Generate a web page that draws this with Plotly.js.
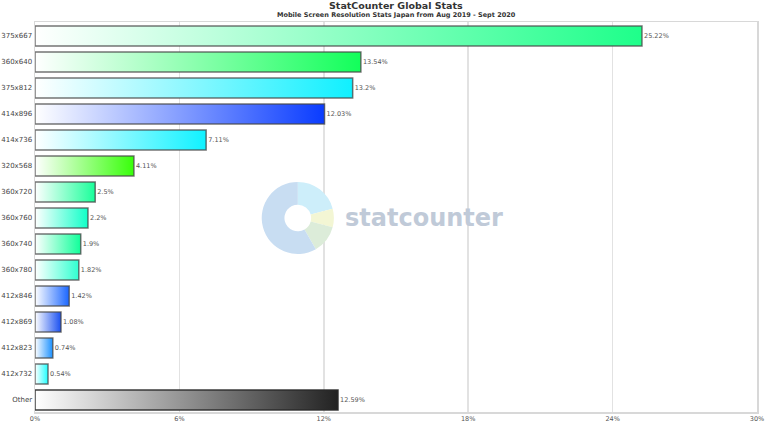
<!DOCTYPE html>
<html>
<head>
<meta charset="utf-8">
<script src="https://cdn.plot.ly/plotly-3.0.1.min.js"></script>
<style>html,body{margin:0;padding:0;background:#fff;}#chart{width:768px;height:432px;}</style>
</head>
<body>
<div id="chart"></div>
<script>
const categories = ['375x667','360x640','375x812','414x896','414x736','320x568','360x720','360x760','360x740','360x780','412x846','412x869','412x823','412x732','Other'];
const shares = [25.22, 13.54, 13.2, 12.03, 7.11, 4.11, 2.5, 2.2, 1.9, 1.82, 1.42, 1.08, 0.74, 0.54, 12.59];
const labels = ['25.22%','13.54%','13.2%','12.03%','7.11%','4.11%','2.5%','2.2%','1.9%','1.82%','1.42%','1.08%','0.74%','0.54%','12.59%'];
const barColors = ['#1eff8a','#12ff5a','#10f0ff','#0a3cff','#10f2ff','#38ff0a','#1aff9a','#10ffc8','#10ff9a','#30ffd0','#1a66ff','#1a50f0','#1a90ff','#20ffff','#222222'];
const xTickVals = [0, 6, 12, 18, 24, 30];
const xTickText = ['0%','6%','12%','18%','24%','30%'];
const logoValues = [75, 30, 45, 210];
const logoColors = ['#cdeefa','#f3f6d4','#dcecd9','#c8ddf2'];

const half = 0.385;
const traces = [];
traces.push({
  type: 'pie', values: logoValues, marker: {colors: logoColors}, hole: 0.37, sort: false,
  direction: 'clockwise', rotation: 0, textinfo: 'none', hoverinfo: 'skip', showlegend: false,
  domain: {x: [0.314, 0.414], y: [0.405, 0.59]}
});
categories.forEach((c, i) => {
  const v = shares[i];
  traces.push({
    type: 'scatter', mode: 'lines', hoverinfo: 'skip', showlegend: false,
    x: [0, v, v, 0, 0],
    y: [i - half, i - half, i + half, i + half, i - half],
    fill: 'toself',
    fillgradient: {type: 'horizontal', colorscale: [[0, '#ffffff'], [1, barColors[i]]]},
    line: {color: i === 14 ? 'rgba(40,40,40,0.9)' : 'rgba(70,70,70,0.75)', width: 1.5}
  });
});
traces.push({
  type: 'scatter', mode: 'text', x: shares, y: categories.map((c, i) => i),
  text: labels.map(t => ' ' + t), textposition: 'middle right', hoverinfo: 'skip', showlegend: false,
  textfont: {size: 6.5, color: '#555', family: 'DejaVu Sans'}, cliponaxis: false
});

const layout = {
  width: 768, height: 432,
  margin: {l: 35, r: 11, t: 22, b: 20},
  paper_bgcolor: '#fff', plot_bgcolor: '#fff',
  font: {family: 'DejaVu Sans', color: '#444'},
  xaxis: {range: [0, 30], tickvals: xTickVals, ticktext: xTickText, showgrid: true, gridcolor: '#e2e2e2', gridwidth: 1.5,
          zeroline: false, showline: true, linecolor: '#d8d8d8', linewidth: 1.5, mirror: true,
          tickfont: {size: 6.5, color: '#555'}, ticks: '', fixedrange: true},
  yaxis: {range: [14.46, -0.54], tickvals: categories.map((c, i) => i), ticktext: categories, showgrid: false,
          zeroline: false, showline: true, linecolor: '#d8d8d8', linewidth: 1.5, mirror: true,
          tickfont: {size: 7, color: '#444'}, ticks: '', fixedrange: true},
  annotations: [
    {text: '<b>StatCounter Global Stats</b>', x: 0.5, y: 1 + 16/390, xref: 'paper', yref: 'paper', xanchor: 'center', yanchor: 'middle',
     showarrow: false, font: {size: 9.5, color: '#333'}},
    {text: '<b>Mobile Screen Resolution Stats Japan from Aug 2019 - Sept 2020</b>', x: 0.5, y: 1 + 7/390, xref: 'paper', yref: 'paper', xanchor: 'center', yanchor: 'middle',
     showarrow: false, font: {size: 6.5, color: '#333'}},
    {text: '<b>statcounter</b>', x: 0.427, y: 0.497, xref: 'paper', yref: 'paper', xanchor: 'left', yanchor: 'middle',
     showarrow: false, font: {size: 24, color: '#c0cad8', family: 'DejaVu Sans'}}
  ]
};
Plotly.newPlot('chart', traces, layout, {staticPlot: true, displayModeBar: false});
</script>
</body>
</html>
